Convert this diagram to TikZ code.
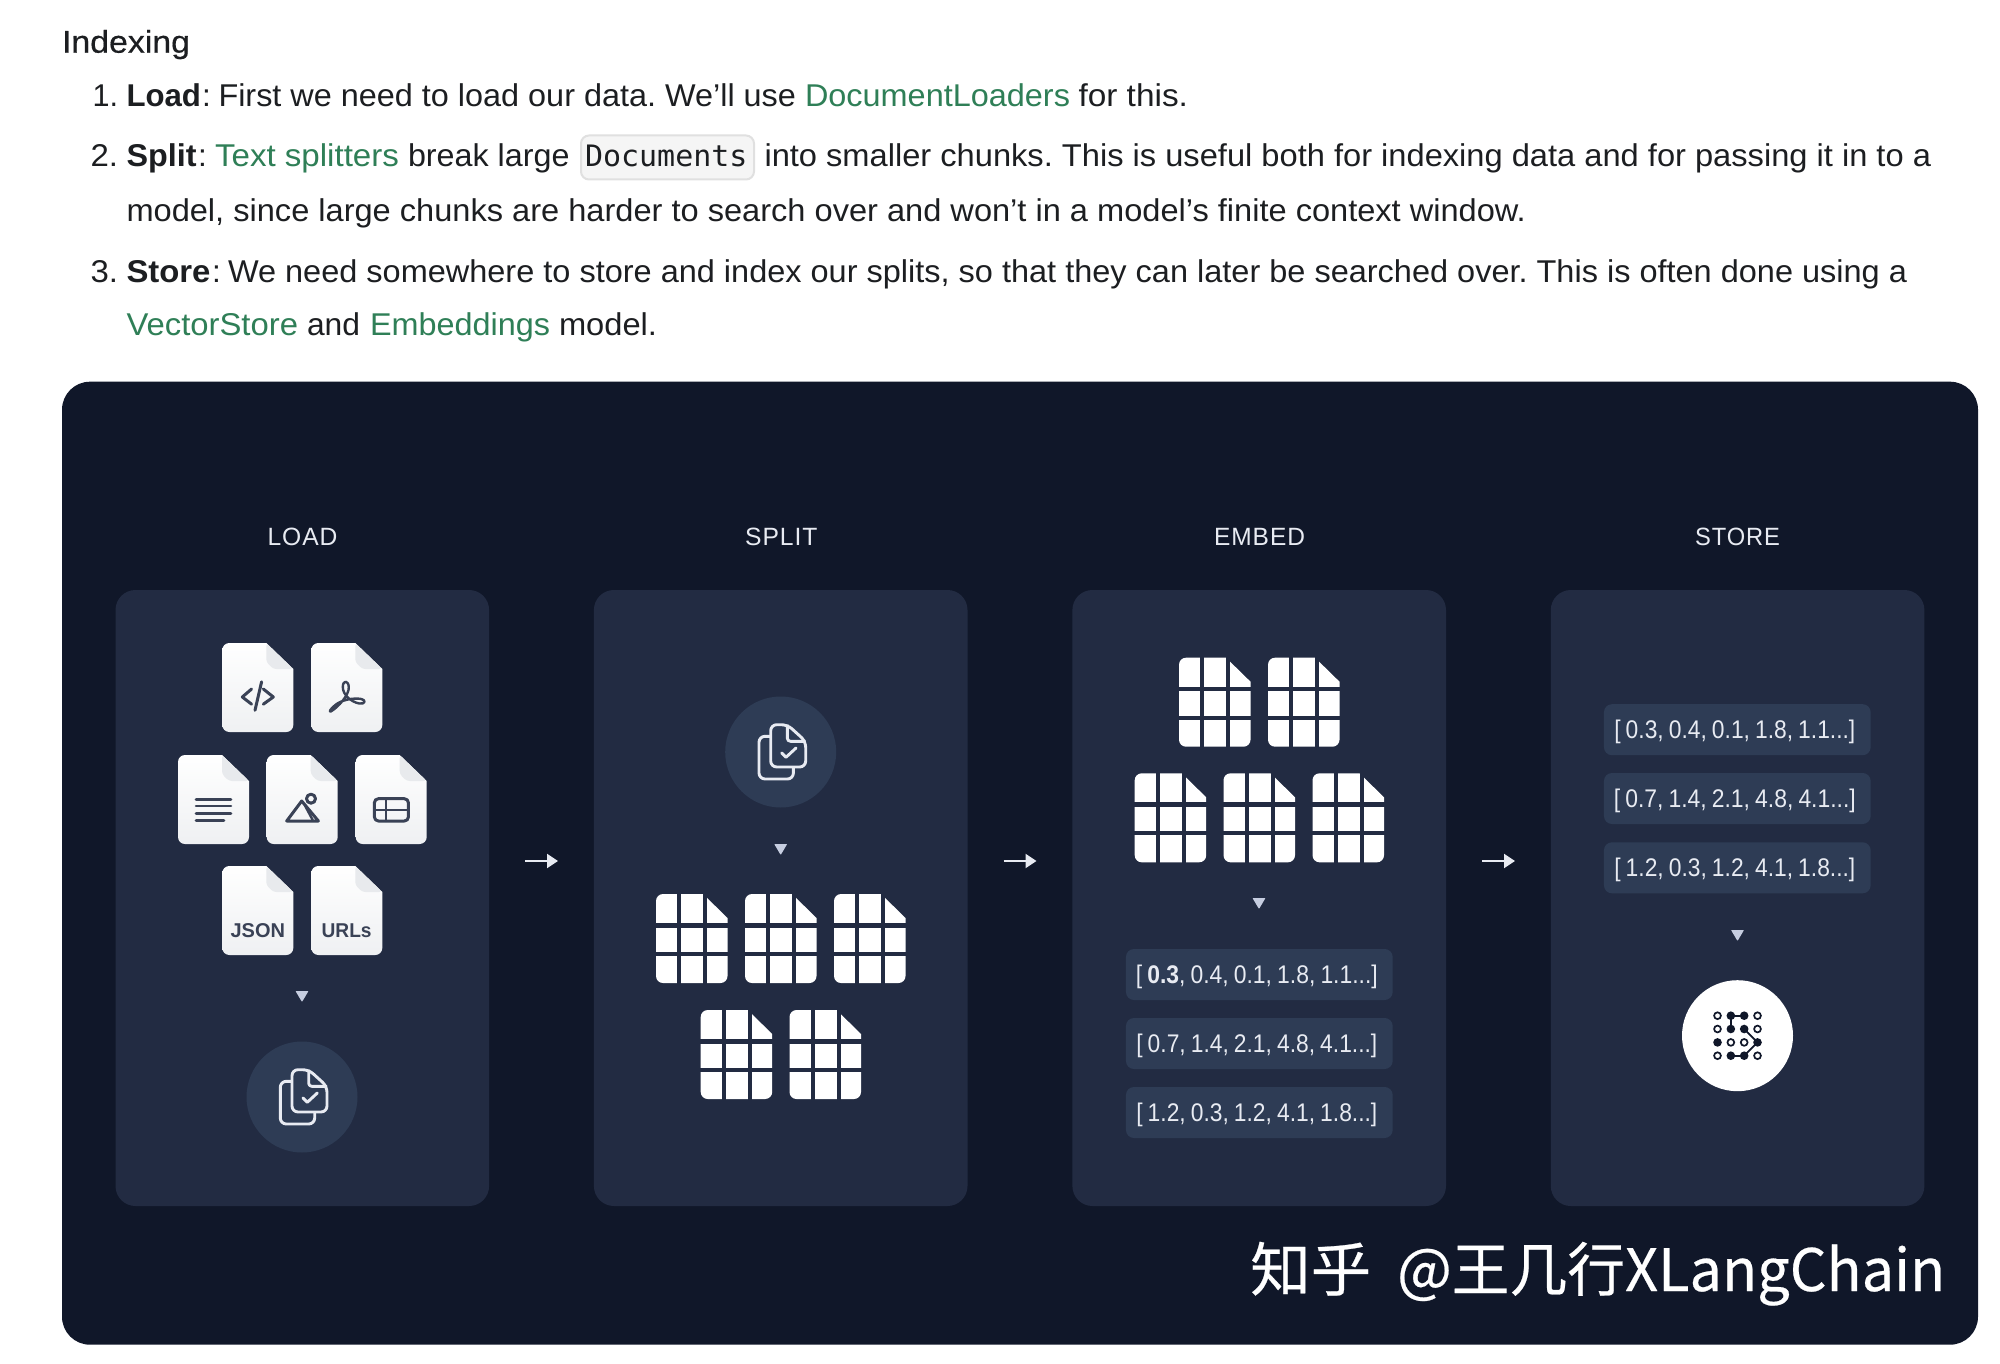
\documentclass[tikz,border=0pt]{standalone}
\usepackage{fontspec}
\usepackage{graphicx}
\usetikzlibrary{arrows.meta}
\setmainfont{Liberation Sans}
\newfontfamily\monof{DejaVu Sans Mono}
\newfontfamily\cjkf[FakeBold=0.4]{Noto Sans CJK SC}
\newfontfamily\medf[FakeBold=0.4]{Liberation Sans}
\newfontfamily\chipfam[WordSpace=0.8]{Liberation Sans}
\newfontfamily\labf[LetterSpace=4]{Liberation Sans}
\definecolor{ink}{HTML}{1C1E21}
\definecolor{linkgreen}{HTML}{2F7F57}
\definecolor{outerbg}{HTML}{101729}
\definecolor{panelbg}{HTML}{222B42}
\definecolor{chipbg}{HTML}{2E3C55}
\definecolor{iconink}{HTML}{3A4256}
\definecolor{foldc}{HTML}{E8EAED}
\definecolor{soft}{HTML}{E8EBF2}
\definecolor{trianglec}{HTML}{C6CDE0}
\newcommand\fitw[2]{\resizebox{#1pt}{\height}{#2}}
\newcommand\bodyf{\fontsize{31.5}{36}\selectfont\frenchspacing}
\newcommand\chipf{\chipfam\fontsize{25.5}{30}\selectfont\frenchspacing}
\newcommand\chiptext[2]{\raisebox{-2pt}[\height][\depth]{\fitw{#1}{#2}}\kern5pt}
\tikzset{
  txt/.style={anchor=base west,inner sep=0,outer sep=0,text=ink,font=\bodyf},
  lnk/.style={txt,text=linkgreen},
  panel/.style={rectangle,rounded corners=20,fill=panelbg,minimum width=373.6,minimum height=616,inner sep=0},
  chip/.style={rectangle,rounded corners=8,fill=chipbg,minimum width=266.7,minimum height=51,inner sep=0,text=soft,font=\chipf},
  orb/.style={circle,minimum size=111,inner sep=0,fill=chipbg},
  steplabel/.style={anchor=base,inner sep=0,text=soft,font=\labf\fontsize{25}{30}\selectfont},
  flow/.style={draw=soft,line width=2,-{Triangle[length=11,width=14]}},
  filelabel/.style={anchor=center,inner sep=0,text=iconink,font=\fontsize{20}{24}\selectfont\bfseries},
  ic/.style={draw=iconink,line width=3,line cap=round,line join=round},
  filedoc/.pic={
    \shade[top color=white!99!foldc,bottom color=foldc!70!white]
      (30,0) [sharp corners] -- (44,0) -- (71,26) -- (71,40) [rounded corners=7] -- (71,89) -- (0,89) -- (0,0) -- cycle;
    \fill[foldc,rounded corners=3] (44,0) -- (71,26) -- (51,26) -- (44,19) -- cycle;
  },
  griddoc/.pic={
    \fill[white] (35,0) [sharp corners] -- (47,0) -- (71.5,24) -- (71.5,40) [rounded corners=7] -- (71.5,89) -- (0,89) -- (0,0) -- cycle;
    \fill[panelbg] (21,-1) rectangle (25,90);
    \fill[panelbg] (47,-1) rectangle (51,90);
    \fill[panelbg] (-1,29) rectangle (73,33.5);
    \fill[panelbg] (-1,58) rectangle (73,62);
  },
  checkdoc/.pic={
    \draw[soft,line width=2.9,rounded corners=6] (-21.7,-15.7) rectangle (12.7,27);
    \draw[soft,fill=chipbg,line width=2.9,line join=round,rounded corners=6]
      (-10,-27.3) -- (6.7,-27.3) -- (25,-10.7) -- (25,15) -- (-10,15) -- cycle;
    \draw[soft,line width=2.9,line join=round,rounded corners=3] (6.7,-27.3) -- (6.7,-10.7) -- (25,-10.7);
    \draw[soft,line width=2.9,line cap=round,line join=round] (1,1) -- (5.3,5.3) -- (15.3,-4);
  },
  tridown/.pic={\fill[trianglec,rounded corners=0.6] (-6.5,0) -- (6.5,0) -- (0,11) -- cycle;},
}
\begin{document}
\begin{tikzpicture}[x=1pt,y=-1pt]
\useasboundingbox[fill=white] (0,0) rectangle (2000,1364);

% ---------- text block
\node[txt,font=\medf\bodyf] (title) at (62,52.7) {\fitw{128}{Indexing}};
\node[txt] (n1) at (92.5,106.2) {\fitw{25.5}{1.}};
\node[txt] (t1a) at (126.5,106.2) {\fitw{74.5}{\bfseries Load}};
\node[txt] (t1colon) at (202,106.2) {:};
\node[txt] (t1b) at (218.5,106.2) {\fitw{577.5}{First we need to load our data. We’ll use}};
\node[lnk] (t1c) at (805,106.2) {\fitw{265}{DocumentLoaders}};
\node[txt] (t1d) at (1078.5,106.2) {\fitw{109.5}{for this.}};

\node[txt] (n2) at (90.5,166.9) {\fitw{27.5}{2.}};
\node[txt] (t2a) at (126.5,166.9) {\fitw{70}{\bfseries Split}};
\node[txt] (t2colon) at (198,166.9) {:};
\node[lnk] (t2c) at (215,166.9) {\fitw{184}{Text splitters}};
\node[txt] (t2d) at (408,166.9) {\fitw{161.5}{break large}};
\node[rectangle,rounded corners=8,draw=black!12,fill=black!4,line width=2,minimum width=173,minimum height=44,inner sep=0] (codebox) at (667.5,157.5) {};
\node[txt,font=\monof\fontsize{29.5}{34}\selectfont] (t2e) at (585,166.9) {\fitw{162.5}{Documents}};
\node[txt] (t2f) at (764.5,166.9) {\fitw{1166.5}{into smaller chunks. This is useful both for indexing data and for passing it in to a}};
\node[txt] (t3) at (126.5,221.2) {\fitw{1399.5}{model, since large chunks are harder to search over and won’t in a model’s finite context window.}};

\node[txt] (n3) at (90.5,282.5) {\fitw{27.5}{3.}};
\node[txt] (t4a) at (126.5,282.5) {\fitw{84}{\bfseries Store}};
\node[txt] (t4colon) at (212,282.5) {:};
\node[txt] (t4b) at (228,282.5) {\fitw{1679}{We need somewhere to store and index our splits, so that they can later be searched over. This is often done using a}};
\node[lnk] (t5a) at (126.5,335.2) {\fitw{171.5}{VectorStore}};
\node[txt] (t5b) at (307,335.2) {\fitw{53}{and}};
\node[lnk] (t5c) at (370,335.2) {\fitw{180}{Embeddings}};
\node[txt] (t5d) at (559,335.2) {\fitw{98}{model.}};

% ---------- dark card
\node[rectangle,rounded corners=28,fill=outerbg,minimum width=1916,minimum height=963,inner sep=0] (card) at (1020,863.2) {};

\node[panel] (p1) at (302.3,898) {};
\node[panel] (p2) at (780.7,898) {};
\node[panel] (p3) at (1259.2,898) {};
\node[panel] (p4) at (1737.6,898) {};

\node[steplabel] (l1) at (302.5,545.5) {\fitw{70}{LOAD}};
\node[steplabel] (l2) at (781.3,545.5) {\fitw{72.5}{SPLIT}};
\node[steplabel] (l3) at (1259.5,545.5) {\fitw{91}{EMBED}};
\node[steplabel] (l4) at (1737.5,545.5) {\fitw{85}{STORE}};

% ---------- arrows between panels
\coordinate (as1) at (525,861);
\coordinate (ae1) at (558,861);
\coordinate (as2) at (1003.5,861);
\coordinate (ae2) at (1036.5,861);
\coordinate (as3) at (1482,861);
\coordinate (ae3) at (1515,861);
\draw[flow] (as1) -- (ae1);
\draw[flow] (as2) -- (ae2);
\draw[flow] (as3) -- (ae3);

% ---------- LOAD panel
\pic at (222.3,643) {filedoc};
\pic at (311.3,643) {filedoc};
\pic at (178,755) {filedoc};
\pic at (266.7,755) {filedoc};
\pic at (355.7,755) {filedoc};
\pic at (222.3,866) {filedoc};
\pic at (311.3,866) {filedoc};

\begin{scope}[shift={(222.3,643)}]
  \draw[ic] (29.3,46) -- (20,54) -- (29.3,61.2);
  \draw[ic] (39.3,38.8) -- (32.7,67.3);
  \draw[ic] (41,46) -- (51,54) -- (41,61.2);
\end{scope}
\begin{scope}[shift={(311.3,643)}]
  \draw[ic,line width=2.4] (19.5,68.5) .. controls (27,64) and (38,52) .. (37.5,44)
     .. controls (37,37) and (31.5,37) .. (31.5,44)
     .. controls (31.5,52) and (40,59) .. (48,60.5)
     .. controls (54,61.5) and (55,57) .. (50,56)
     .. controls (42,54.5) and (30,57) .. (24,62)
     .. controls (19,66) and (17.5,69) .. (19.5,68.5) -- cycle;
\end{scope}
\begin{scope}[shift={(178,755)}]
  \draw[ic,line width=2.6] (18,44.5) -- (53,44.5);
  \draw[ic,line width=2.6] (18,51) -- (53,51);
  \draw[ic,line width=2.6] (18,58.4) -- (53,58.4);
  \draw[ic,line width=2.6] (18,65.7) -- (46,65.7);
\end{scope}
\begin{scope}[shift={(266.7,755)}]
  \draw[ic] (20,66) -- (35,46) -- (51.7,66) -- cycle;
  \draw[ic,line width=2.4] (38,50) -- (46,65);
  \draw[ic] (44.3,43.7) circle (4.5);
\end{scope}
\begin{scope}[shift={(355.7,755)}]
  \draw[ic,rounded corners=4] (18.7,43.7) rectangle (52.7,66);
  \draw[ic,line width=2.4] (18.7,54.7) -- (52.7,54.7);
  \draw[ic,line width=2.4] (30,43.7) -- (30,66);
\end{scope}
\node[filelabel] (fj) at (257.8,930.5) {JSON};
\node[filelabel] (fu) at (346.6,930.5) {\fitw{50}{URLs}};
\pic at (302,991) {tridown};
\node[orb] (c1) at (302,1097) {};
\pic at (c1) {checkdoc};

% ---------- SPLIT panel
\node[orb] (c2) at (780.7,752) {};
\pic at (c2) {checkdoc};
\pic at (780.7,844) {tridown};
\foreach \x in {656,745,834}{\pic at (\x,894) {griddoc};}
\foreach \x in {700.7,789.5}{\pic at (\x,1010) {griddoc};}

% ---------- EMBED panel
\foreach \x in {1179,1268}{\pic at (\x,657.7) {griddoc};}
\foreach \x in {1134.7,1223.5,1312.5}{\pic at (\x,773.3) {griddoc};}
\pic at (1259,898) {tridown};
\node[chip] (e1) at (1259.3,974.5) {\chiptext{242}{[ \textbf{0.3}, 0.4, 0.1, 1.8, 1.1...]}};
\node[chip] (e2) at (1259.3,1043.5) {\chiptext{241}{[ 0.7, 1.4, 2.1, 4.8, 4.1...]}};
\node[chip] (e3) at (1259.3,1112.5) {\chiptext{241}{[ 1.2, 0.3, 1.2, 4.1, 1.8...]}};

% ---------- STORE panel
\node[chip] (s1) at (1737.3,729.7) {\chiptext{241}{[ 0.3, 0.4, 0.1, 1.8, 1.1...]}};
\node[chip] (s2) at (1737.3,798.5) {\chiptext{242}{[ 0.7, 1.4, 2.1, 4.8, 4.1...]}};
\node[chip] (s3) at (1737.3,867.8) {\chiptext{241}{[ 1.2, 0.3, 1.2, 4.1, 1.8...]}};
\pic at (1737.5,930) {tridown};
\node[orb,fill=white] (c4) at (1737.5,1035.7) {};
\begin{scope}[shift={(c4)}]
  \def\dx{13.35}
  \draw[outerbg,line width=1.8] (-\dx/2,-20) -- (\dx/2,-20);
  \draw[outerbg,line width=1.8] (-\dx/2,-20) -- (-\dx/2,-6.7);
  \draw[outerbg,line width=1.8] (\dx/2,-6.7) -- (20,6.7) -- (\dx/2,20);
  \draw[outerbg,line width=1.8] (-\dx/2,20) -- (\dx/2,20);
  \foreach \x/\y in {-20/-20,20/-20,-20/-6.7,20/-6.7,-6.67/6.7,6.67/6.7,-20/20,20/20}{
    \draw[outerbg,line width=1.7,fill=white] (\x,\y) circle (3.4);
  }
  \foreach \x/\y in {-6.67/-20,6.67/-20,-6.67/-6.7,6.67/-6.7,-20/6.7,20/6.7,-6.67/20,6.67/20}{
    \fill[outerbg] (\x,\y) circle (4.3);
  }
\end{scope}

% ---------- watermark
\node[anchor=base west,inner sep=0,text=white,font=\cjkf\fontsize{58.5}{70}\selectfont] (wm1) at (1250,1291) {\fitw{121}{知乎}};
\node[anchor=base west,inner sep=0,text=white,font=\cjkf\fontsize{58.5}{70}\selectfont] (wm2) at (1397,1291) {\fitw{548}{@王几行XLangChain}};
\end{tikzpicture}
\end{document}
